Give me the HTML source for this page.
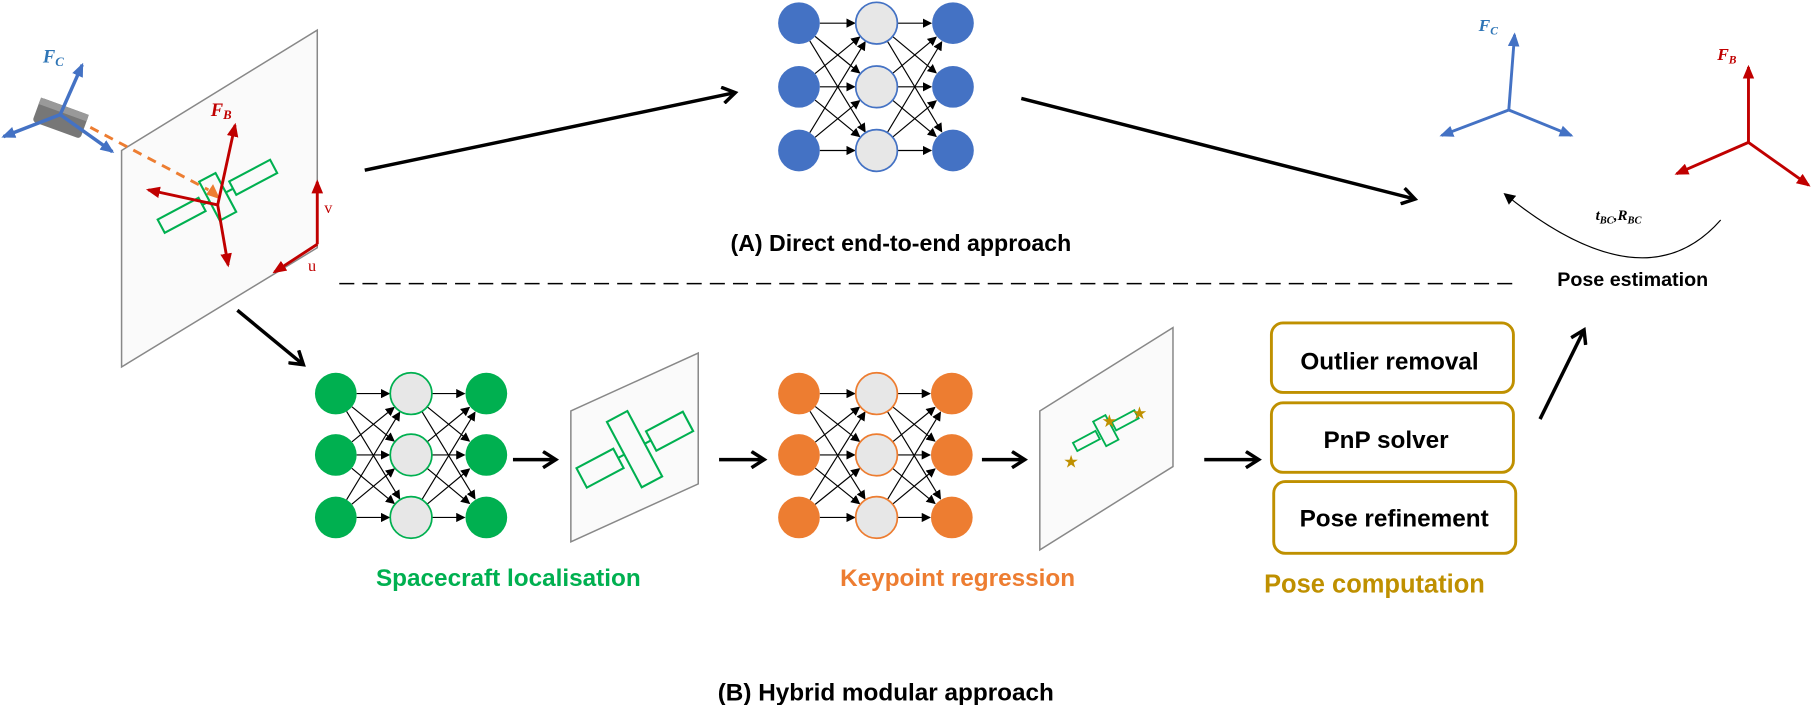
<!DOCTYPE html>
<html><head><meta charset="utf-8"><style>
html,body{margin:0;padding:0;background:#fff;}
svg{display:block;}
text{font-family:"Liberation Sans",sans-serif;font-weight:bold;}
.m{font-family:"Liberation Serif",serif;font-style:italic;font-weight:bold;}
</style></head><body>
<svg id="s" width="1811" height="705" viewBox="0 0 1564 609" preserveAspectRatio="none" xmlns="http://www.w3.org/2000/svg">
<defs>
<marker id="bk" markerWidth="8" markerHeight="8" refX="7" refY="4" orient="auto" markerUnits="userSpaceOnUse"><path d="M0,0 L8,4 L0,8 z" fill="#000"/></marker>
<marker id="bl" markerWidth="12" markerHeight="10" refX="10" refY="5" orient="auto" markerUnits="userSpaceOnUse"><path d="M0,0 L12,5 L0,10 z" fill="#4472c4"/></marker>
<marker id="rd" markerWidth="12" markerHeight="10" refX="10" refY="5" orient="auto" markerUnits="userSpaceOnUse"><path d="M0,0 L12,5 L0,10 z" fill="#c00000"/></marker>
<marker id="op" markerWidth="16" markerHeight="16" refX="13" refY="8" orient="auto" markerUnits="userSpaceOnUse"><path d="M2,1 L13,8 L2,15" fill="none" stroke="#000" stroke-width="3"/></marker>
<marker id="th" markerWidth="10" markerHeight="10" refX="8" refY="5" orient="auto" markerUnits="userSpaceOnUse"><path d="M0,0 L10,5 L0,10 z" fill="#000"/></marker>
</defs>

<polygon points="105,130 274,26 274,214 105,317" fill="#fafafa" stroke="#888" stroke-width="1.3"/>
<g transform="translate(52,103) rotate(20)"><rect x="-22" y="-12" width="44" height="22" rx="3" fill="#777"/><rect x="-22" y="-12" width="44" height="6" fill="#999"/></g>
<line x1="52" y1="99" x2="71" y2="56" stroke="#4472c4" stroke-width="3" marker-end="url(#bl)"/>
<line x1="52" y1="99" x2="3" y2="118" stroke="#4472c4" stroke-width="3" marker-end="url(#bl)"/>
<line x1="52" y1="99" x2="97" y2="131" stroke="#4472c4" stroke-width="3" marker-end="url(#bl)"/>
<text x="37" y="54" class="m" fill="#2e75b6" font-size="16">F<tspan font-size="11" dy="3">C</tspan></text>
<line x1="78" y1="110" x2="180" y2="164" stroke="#ed7d31" stroke-width="2.5" stroke-dasharray="8,6"/>
<polygon points="190,172 178,168 184,159" fill="#ed7d31"/>
<g transform="translate(188,170) rotate(-28)" fill="none" stroke="#00b050" stroke-width="1.8">
<rect x="-8" y="-19" width="16" height="38"/>
<rect x="-55" y="-7" width="40" height="13"/><rect x="15" y="-7" width="40" height="13"/>
<line x1="-15" y1="0" x2="-8" y2="0"/><line x1="8" y1="0" x2="15" y2="0"/>
</g>
<line x1="188" y1="177" x2="203" y2="108" stroke="#c00000" stroke-width="2.5" marker-end="url(#rd)"/>
<line x1="188" y1="177" x2="128" y2="164" stroke="#c00000" stroke-width="2.5" marker-end="url(#rd)"/>
<line x1="188" y1="177" x2="197" y2="229" stroke="#c00000" stroke-width="2.5" marker-end="url(#rd)"/>
<text x="182" y="100" class="m" fill="#c00000" font-size="16">F<tspan font-size="11" dy="3">B</tspan></text>
<line x1="274" y1="211" x2="274" y2="157" stroke="#c00000" stroke-width="2.5" marker-end="url(#rd)"/>
<line x1="274" y1="211" x2="237" y2="235" stroke="#c00000" stroke-width="2.5" marker-end="url(#rd)"/>
<text x="280" y="184" fill="#c00000" font-size="14" style="font-family:'Liberation Serif',serif;font-weight:normal">v</text>
<text x="266" y="234" fill="#c00000" font-size="14" style="font-family:'Liberation Serif',serif;font-weight:normal">u</text>

<line x1="315" y1="147" x2="635" y2="80" stroke="#000" stroke-width="3" marker-end="url(#op)"/>
<line x1="882" y1="85" x2="1222" y2="172" stroke="#000" stroke-width="3" marker-end="url(#op)"/>
<g id="nets"></g>
<text x="778" y="217" text-anchor="middle" font-size="20">(A) Direct end-to-end approach</text>
<line x1="293" y1="245" x2="1313" y2="245" stroke="#000" stroke-width="1.3" stroke-dasharray="13,7"/>

<line x1="1303" y1="95" x2="1308" y2="30" stroke="#4472c4" stroke-width="2.5" marker-end="url(#bl)"/>
<line x1="1303" y1="95" x2="1245" y2="117" stroke="#4472c4" stroke-width="2.5" marker-end="url(#bl)"/>
<line x1="1303" y1="95" x2="1357" y2="117" stroke="#4472c4" stroke-width="2.5" marker-end="url(#bl)"/>
<text x="1277" y="27" class="m" fill="#2e75b6" font-size="15">F<tspan font-size="10" dy="3">C</tspan></text>
<line x1="1510" y1="123" x2="1510" y2="58" stroke="#c00000" stroke-width="2.5" marker-end="url(#rd)"/>
<line x1="1510" y1="123" x2="1448" y2="150" stroke="#c00000" stroke-width="2.5" marker-end="url(#rd)"/>
<line x1="1510" y1="123" x2="1562" y2="160" stroke="#c00000" stroke-width="2.5" marker-end="url(#rd)"/>
<text x="1483" y="52" class="m" fill="#c00000" font-size="15">F<tspan font-size="10" dy="3">B</tspan></text>
<path d="M1486,190 Q1420,265 1300,168" fill="none" stroke="#000" stroke-width="1" marker-end="url(#th)"/>
<text x="1378" y="190" class="m" font-size="13">t<tspan font-size="9" dy="3">BC</tspan><tspan dy="-3">,</tspan>R<tspan font-size="9" dy="3">BC</tspan></text>
<text x="1410" y="247" text-anchor="middle" font-size="17">Pose estimation</text>
<line x1="1330" y1="362" x2="1368" y2="285" stroke="#000" stroke-width="3" marker-end="url(#op)"/>

<line x1="205" y1="268" x2="262" y2="315" stroke="#000" stroke-width="3" marker-end="url(#op)"/>
<line x1="443" y1="397" x2="480" y2="397" stroke="#000" stroke-width="3" marker-end="url(#op)"/>
<polygon points="493,355 603,305 603,418 493,468" fill="#fafafa" stroke="#888" stroke-width="1.3"/>
<g transform="translate(548,388) rotate(-28)" fill="none" stroke="#00b050" stroke-width="1.8">
<rect x="-10" y="-32" width="20" height="64"/>
<rect x="-52" y="-9" width="36" height="19"/><rect x="16" y="-9" width="36" height="19"/>
<line x1="-16" y1="0" x2="-10" y2="0"/><line x1="10" y1="0" x2="16" y2="0"/>
</g>
<line x1="621" y1="397" x2="660" y2="397" stroke="#000" stroke-width="3" marker-end="url(#op)"/>
<line x1="848" y1="397" x2="885" y2="397" stroke="#000" stroke-width="3" marker-end="url(#op)"/>
<polygon points="898,355 1013,283 1013,403 898,475" fill="#fafafa" stroke="#888" stroke-width="1.3"/>
<g transform="translate(955,372) rotate(-28)" fill="none" stroke="#00b050" stroke-width="1.6">
<rect x="-6" y="-12" width="12" height="24"/>
<rect x="-30" y="-4" width="22" height="8"/><rect x="8" y="-4" width="22" height="8"/>
</g>
<text x="925" y="404" text-anchor="middle" font-size="15" fill="#bf9000" style="font-weight:normal">★</text>
<text x="958" y="369" text-anchor="middle" font-size="15" fill="#bf9000" style="font-weight:normal">★</text>
<text x="984" y="362" text-anchor="middle" font-size="15" fill="#bf9000" style="font-weight:normal">★</text>
<line x1="1040" y1="397" x2="1087" y2="397" stroke="#000" stroke-width="3" marker-end="url(#op)"/>
<rect x="1098" y="279" width="209" height="60" rx="10" fill="#fff" stroke="#bf9000" stroke-width="2.5"/>
<rect x="1098" y="348" width="209" height="60" rx="10" fill="#fff" stroke="#bf9000" stroke-width="2.5"/>
<rect x="1100" y="416" width="209" height="62" rx="10" fill="#fff" stroke="#bf9000" stroke-width="2.5"/>
<text x="1200" y="319" text-anchor="middle" font-size="21">Outlier removal</text>
<text x="1197" y="387" text-anchor="middle" font-size="21">PnP solver</text>
<text x="1204" y="455" text-anchor="middle" font-size="21">Pose refinement</text>
<text x="439" y="506" text-anchor="middle" font-size="21" fill="#00b050">Spacecraft localisation</text>
<text x="827" y="506" text-anchor="middle" font-size="21" fill="#ed7d31">Keypoint regression</text>
<text x="1187" y="512" text-anchor="middle" font-size="22" fill="#bf9000">Pose computation</text>
<text x="765" y="605" text-anchor="middle" font-size="21">(B) Hybrid modular approach</text>
</svg>
<script>
(function(){
var g=document.getElementById('nets');
function net(cols,rows,col,r){
 var s='';
 for(var c=0;c<2;c++)for(var i=0;i<3;i++)for(var j=0;j<3;j++){
  var x1=cols[c],y1=rows[i],x2=cols[c+1],y2=rows[j];
  var dx=x2-x1,dy=y2-y1,L=Math.sqrt(dx*dx+dy*dy);
  var ax=x1+dx/L*r,ay=y1+dy/L*r,bx=x2-dx/L*(r+1),by=y2-dy/L*(r+1);
  s+='<line x1="'+ax+'" y1="'+ay+'" x2="'+bx+'" y2="'+by+'" stroke="#000" stroke-width="1" marker-end="url(#bk)"/>';
 }
 for(var c=0;c<3;c++)for(var i=0;i<3;i++){
  if(c==1)s+='<circle cx="'+cols[c]+'" cy="'+rows[i]+'" r="'+r+'" fill="#e7e7e7" stroke="'+col+'" stroke-width="1.5"/>';
  else s+='<circle cx="'+cols[c]+'" cy="'+rows[i]+'" r="'+r+'" fill="'+col+'"/>';
 }
 return s;
}
g.innerHTML=net([690,757,823],[20,75,130],'#4472c4',18)+net([290,355,420],[340,393,447],'#00b050',18)+net([690,757,822],[340,393,447],'#ed7d31',18);
})();
</script>
</body></html>
